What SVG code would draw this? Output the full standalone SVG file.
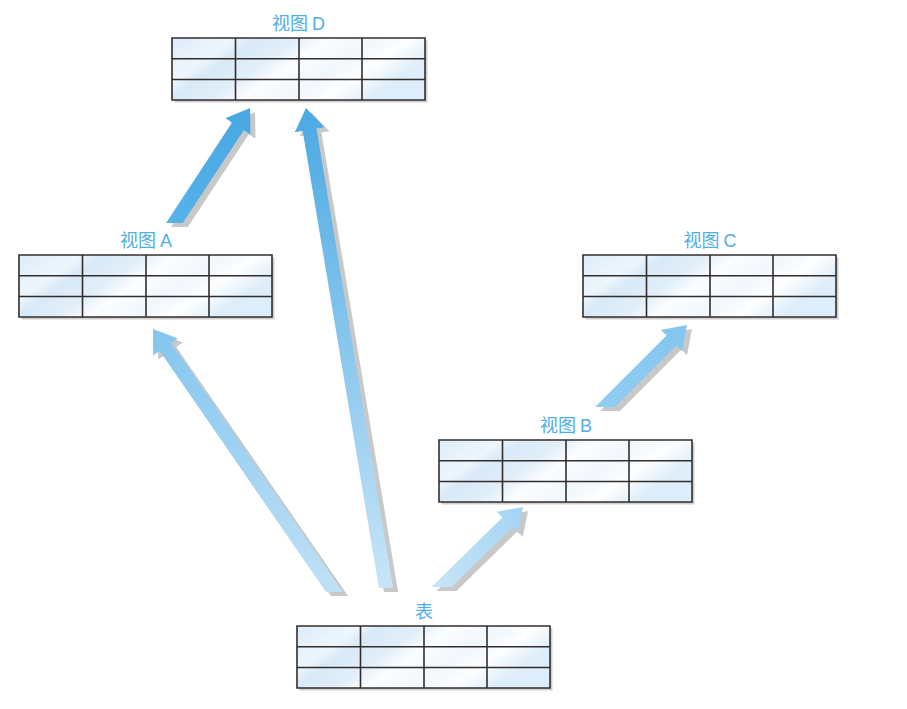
<svg xmlns="http://www.w3.org/2000/svg" xmlns:xlink="http://www.w3.org/1999/xlink" width="907" height="709" viewBox="0 0 907 709">
<style>
.lbl{font-family:"Liberation Sans","Noto Sans CJK SC",sans-serif;font-size:18px;fill:#52ade5;text-anchor:middle}
.grid{fill:none;stroke:#332e2e;stroke-width:1.6}
.tshadow{fill:#cfcfcf}
.ashadow{fill:#c8c8c8}
</style>
<defs>
<linearGradient id="cellfill" x1="0" y1="0" x2="1" y2="0.35">
<stop offset="0" stop-color="#dcecf9"/>
<stop offset="0.22" stop-color="#eef6fc"/>
<stop offset="0.3" stop-color="#d8e9f7"/>
<stop offset="0.45" stop-color="#e2eff9"/>
<stop offset="0.55" stop-color="#fbfdff"/>
<stop offset="0.72" stop-color="#f1f7fc"/>
<stop offset="0.85" stop-color="#fdfeff"/>
<stop offset="1" stop-color="#ddedf9"/>
</linearGradient>
<g id="table">
<rect x="2.5" y="2.5" width="253" height="62" class="tshadow"/>
<rect x="0" y="0" width="253" height="62" fill="url(#cellfill)"/>
<path class="grid" d="M0,0H253V62H0Z M63.5,0V62 M127,0V62 M190,0V62 M0,20.7H253 M0,41.5H253"/>
</g>
<linearGradient id="g1" gradientUnits="userSpaceOnUse" x1="174" y1="223" x2="250" y2="108">
<stop offset="0" stop-color="#55b2e9"/><stop offset="1" stop-color="#48a8e3"/>
</linearGradient>
<linearGradient id="g2" gradientUnits="userSpaceOnUse" x1="386" y1="588" x2="306" y2="108">
<stop offset="0" stop-color="#c8e5f8"/><stop offset="1" stop-color="#4aa9e3"/>
</linearGradient>
<linearGradient id="g3" gradientUnits="userSpaceOnUse" x1="334" y1="592" x2="153" y2="329">
<stop offset="0" stop-color="#bfe1f6"/><stop offset="1" stop-color="#84c5ee"/>
</linearGradient>
<linearGradient id="g4" gradientUnits="userSpaceOnUse" x1="441" y1="587" x2="523" y2="507">
<stop offset="0" stop-color="#c6e4f7"/><stop offset="1" stop-color="#a3d4f3"/>
</linearGradient>
<linearGradient id="g5" gradientUnits="userSpaceOnUse" x1="605" y1="407" x2="687" y2="325">
<stop offset="0" stop-color="#8fccf1"/><stop offset="1" stop-color="#84c6ef"/>
</linearGradient>
</defs>
<rect width="907" height="709" fill="#ffffff"/>

<g id="connectors">
<g id="a-to-d">
<path class="ashadow" transform="translate(5,4)" d="M166.1,223 L232.05,122.6 L225.4,118.2 L250,108 L250.5,134.6 L243.75,130.2 L182.8,223 Z"/>
<path fill="url(#g1)" d="M166.1,223 L232.05,122.6 L225.4,118.2 L250,108 L250.5,134.6 L243.75,130.2 L182.8,223 Z"/>
</g>
<g id="table-to-d">
<path class="ashadow" transform="translate(5,4)" d="M378.9,588 L302.7,130.9 L294.8,132.2 L306,108 L324.4,127.2 L316.5,128.5 L393.1,588 Z"/>
<path fill="url(#g2)" d="M378.9,588 L302.7,130.9 L294.8,132.2 L306,108 L324.4,127.2 L316.5,128.5 L393.1,588 Z"/>
</g>
<g id="table-to-a">
<path class="ashadow" transform="translate(5,4)" d="M326,592 L159.74,351.1 L153.15,355.6 L153,329 L177.85,338.6 L171.26,343.1 L343.1,592 Z"/>
<path fill="url(#g3)" d="M326,592 L159.74,351.1 L153.15,355.6 L153,329 L177.85,338.6 L171.26,343.1 L343.1,592 Z"/>
</g>
<g id="table-to-b">
<path class="ashadow" transform="translate(5,4)" d="M431.5,587 L502.4,517.4 L496.8,511.7 L523,507 L517.8,533.1 L512.2,527.4 L451.5,587 Z"/>
<path fill="url(#g4)" d="M431.5,587 L502.4,517.4 L496.8,511.7 L523,507 L517.8,533.1 L512.2,527.4 L451.5,587 Z"/>
</g>
<g id="b-to-c">
<path class="ashadow" transform="translate(5,4)" d="M595.1,407 L666.5,335.6 L660.8,330 L687,325 L682,351.2 L676.4,345.5 L614.9,407 Z"/>
<path fill="url(#g5)" d="M595.1,407 L666.5,335.6 L660.8,330 L687,325 L682,351.2 L676.4,345.5 L614.9,407 Z"/>
</g>
</g>

<g id="view-d">
<text class="lbl" x="298.5" y="30">视图<tspan dx="4">D</tspan></text>
<use xlink:href="#table" href="#table" transform="translate(172,38)"/>
</g>
<g id="view-a">
<text class="lbl" x="146" y="247">视图<tspan dx="4">A</tspan></text>
<use xlink:href="#table" href="#table" transform="translate(19,255)"/>
</g>
<g id="view-c">
<text class="lbl" x="710" y="247">视图<tspan dx="4">C</tspan></text>
<use xlink:href="#table" href="#table" transform="translate(583,255)"/>
</g>
<g id="view-b">
<text class="lbl" x="566" y="432">视图<tspan dx="4">B</tspan></text>
<use xlink:href="#table" href="#table" transform="translate(439,440)"/>
</g>
<g id="base-table">
<text class="lbl" x="424" y="618">表</text>
<use xlink:href="#table" href="#table" transform="translate(297,626)"/>
</g>
</svg>
